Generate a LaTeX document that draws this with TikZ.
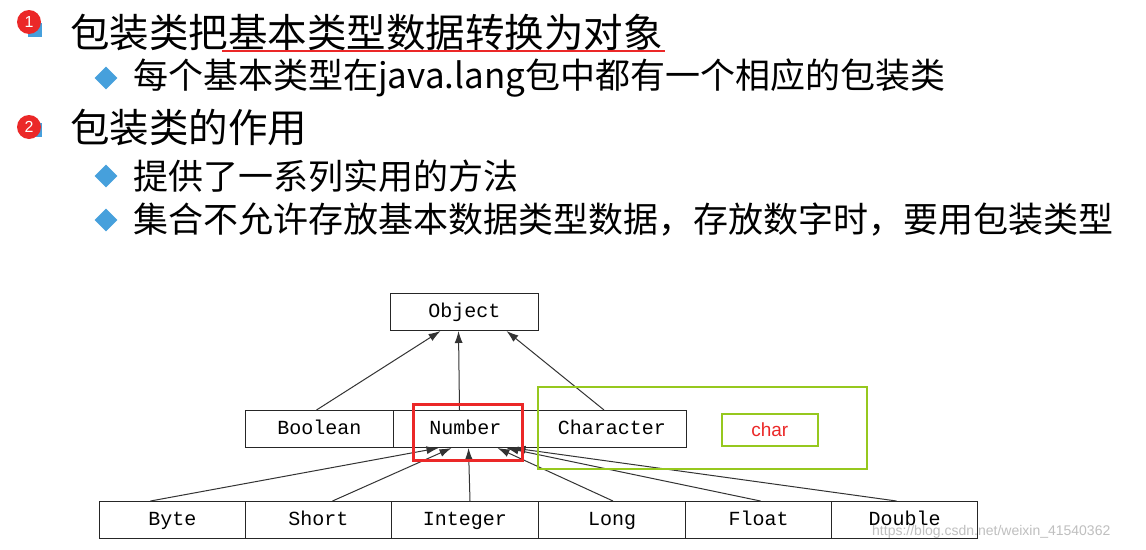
\documentclass[tikz,border=0pt]{standalone}
\usepackage{fontspec}
\setmainfont{Noto Sans CJK SC}
\newfontfamily\cjk{Noto Sans CJK SC}
\newfontfamily\monof{Liberation Mono}
\newfontfamily\sansf{Liberation Sans}
\usetikzlibrary{arrows.meta}
\definecolor{bluebul}{RGB}{70,160,220}
\definecolor{redc}{RGB}{235,40,40}
\definecolor{greenc}{RGB}{150,200,30}
\tikzset{
 cls/.style={draw=black!85,line width=1pt,minimum height=37pt,inner sep=0pt,text height=14pt,text depth=4pt,font=\monof\fontsize{20}{20}\selectfont,anchor=north west},
 inh/.style={draw=black!80,line width=1pt,-{Latex[length=12pt,width=8pt]}},
 line1/.style={anchor=west,inner sep=0pt,font=\cjk\fontsize{39.5}{40}\selectfont},
 line2/.style={anchor=west,inner sep=0pt,font=\cjk\fontsize{35}{35}\selectfont},
 dia/.style={fill=bluebul,minimum size=16pt,rotate=45,inner sep=0pt},
 num/.style={circle,fill=redc,text=white,minimum size=24pt,inner sep=0pt,font=\sansf\fontsize{16}{16}\selectfont},
 sq/.style={fill=bluebul,minimum size=14pt,inner sep=0pt},
}
\begin{document}
\begin{tikzpicture}[x=1pt,y=-1pt]
\useasboundingbox[fill=white] (0,0) rectangle (1146,549);
% headings
\node[sq] (s1) at (35,30) {};
\node[num] (n1) at (29,22) {1};
\node[line1] (t1) at (70,32) {包装类把基本类型数据转换为对象};
\draw[redc,line width=1.5pt] (222,51) -- (665,51);
\node[dia] (d1) at (106,78) {};
\node[line2] (t2) at (133,78) {每个基本类型在java.lang包中都有一个相应的包装类};
\node[sq] (s2) at (35,130) {};
\node[num] (n2) at (29,127) {2};
\node[line1] (t3) at (70,127) {包装类的作用};
\node[dia] (d2) at (106,176) {};
\node[line2] (t4) at (133,176) {提供了一系列实用的方法};
\node[dia] (d3) at (106,220) {};
\node[line2] (t5) at (133,220) {集合不允许存放基本数据类型数据，存放数字时，要用包装类型};
% classes
\node[cls,minimum width=148pt] (obj) at (390,293) {Object};
\node[cls,minimum width=148pt] (bool) at (245,410) {Boolean};
\node[cls,minimum width=144pt] (numb) at (393,410) {Number};
\node[cls,minimum width=149pt] (chr) at (537,410) {Character};
\node[cls,minimum width=146pt] (byte) at (99,501) {Byte};
\node[cls,minimum width=146pt] (short) at (245,501) {Short};
\node[cls,minimum width=147pt] (int) at (391,501) {Integer};
\node[cls,minimum width=147pt] (long) at (538,501) {Long};
\node[cls,minimum width=146pt] (flt) at (685,501) {Float};
\node[cls,minimum width=146pt] (dbl) at (831,501) {Double};
% inheritance
\draw[inh] (bool.north) ++(-3,0) -- ([xshift=-24pt]obj.south);
\draw[inh] ([xshift=-6pt]numb.north) -- ([xshift=-6pt]obj.south);
\draw[inh] (chr.north) ++(-8,0) -- ([xshift=42pt]obj.south);
\draw[inh] (byte.north) ++(-22,0) -- ([xshift=-27pt]numb.south);
\draw[inh] (short.north) ++(14,0) -- ([xshift=-14pt]numb.south);
\draw[inh] (int.north) ++(5,0) -- ([xshift=3pt]numb.south);
\draw[inh] (long.north) ++(1,0) -- ([xshift=32pt]numb.south);
\draw[inh] (flt.north) ++(2,0) -- ([xshift=41pt]numb.south);
\draw[inh] (dbl.north) ++(-8,0) -- ([xshift=48pt]numb.south);
% annotations
\node[draw=redc,line width=3.5pt,minimum width=109pt,minimum height=56pt,anchor=north west,inner sep=0pt] (rb) at (411.5,402.5) {};
\node[draw=greenc,line width=1.5pt,minimum width=329pt,minimum height=82pt,anchor=north west,inner sep=0pt] (gb) at (537,386) {};
\node[draw=greenc,line width=1.5pt,minimum width=96pt,minimum height=32pt,anchor=north west,inner sep=0pt,text=redc,font=\sansf\fontsize{19}{19}\selectfont] (ch) at (721,413) {char};
\node[anchor=west,text=black!25,font=\sansf\fontsize{14}{14}\selectfont,inner sep=0pt] (wm) at (872,532) {https://blog.csdn.net/weixin\_41540362};
\end{tikzpicture}
\end{document}
